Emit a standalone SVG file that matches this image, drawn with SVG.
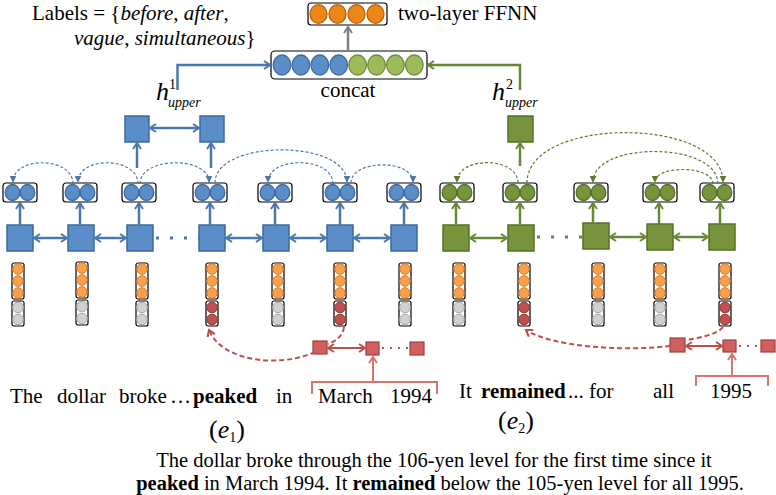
<svg xmlns="http://www.w3.org/2000/svg" width="776" height="495" viewBox="0 0 776 495">
<style>
text{font-family:"Liberation Serif","Times New Roman",serif;fill:#000}
.t20{font-size:20.5px}
.t21{font-size:21px}
.it{font-style:italic}
.b{font-weight:bold}
.bsq{fill:#5b8dc8;stroke:#3d6a9e;stroke-width:1.5}
.gsq{fill:#77943d;stroke:#55702a;stroke-width:1.5}
.rsq{fill:#d0605d;stroke:#a03c3a;stroke-width:1.2}
.box{fill:#fff;stroke:#000;stroke-width:1.2}
.bc{fill:#5b8dc8;stroke:#3d6a9e;stroke-width:1.3}
.gc{fill:#77943d;stroke:#55702a;stroke-width:1.3}
.lgc{fill:#9bbb59;stroke:#6f8a3a;stroke-width:1.3}
.oc{fill:#ec8717;stroke:#b5620c;stroke-width:1.3}
.woc{fill:#f9a04c;stroke:#dc7a22;stroke-width:1}
.wgc{fill:#d0d0d0;stroke:#a8a8a8;stroke-width:1}
.wrc{fill:#c0504d;stroke:#8c3836;stroke-width:1}
.ba{stroke:#4a78ad;stroke-width:2.5;fill:none}
.ga{stroke:#6a8736;stroke-width:2.5;fill:none}
.bd{stroke:#4a78ad;stroke-width:1.2;fill:none;stroke-dasharray:3 2}
.gd{stroke:#5f7a2e;stroke-width:1.2;fill:none;stroke-dasharray:3 2}
.rd{stroke:#b9504c;stroke-width:2;fill:none;stroke-dasharray:5 3}
.ra{stroke:#b9504c;stroke-width:2;fill:none}
.rb{stroke:#d9736e;stroke-width:2;fill:none}
</style>
<defs>
<marker id="mb" viewBox="0 0 10 10" refX="8" refY="5" markerWidth="10" markerHeight="10" markerUnits="userSpaceOnUse" orient="auto-start-reverse"><path d="M2,1 L8,5 L2,9" fill="none" stroke="#4a78ad" stroke-width="2"/></marker>
<marker id="mg" viewBox="0 0 10 10" refX="8" refY="5" markerWidth="10" markerHeight="10" markerUnits="userSpaceOnUse" orient="auto-start-reverse"><path d="M2,1 L8,5 L2,9" fill="none" stroke="#6a8736" stroke-width="2"/></marker>
<marker id="mgr" viewBox="0 0 10 10" refX="8" refY="5" markerWidth="10" markerHeight="10" markerUnits="userSpaceOnUse" orient="auto-start-reverse"><path d="M2,1 L8,5 L2,9" fill="none" stroke="#808080" stroke-width="2"/></marker>
<marker id="mr" viewBox="0 0 10 10" refX="8" refY="5" markerWidth="10" markerHeight="10" markerUnits="userSpaceOnUse" orient="auto-start-reverse"><path d="M2,1 L8,5 L2,9" fill="none" stroke="#b9504c" stroke-width="2"/></marker>
<marker id="mrl" viewBox="0 0 10 10" refX="8" refY="5" markerWidth="10" markerHeight="10" markerUnits="userSpaceOnUse" orient="auto-start-reverse"><path d="M2,1 L8,5 L2,9" fill="none" stroke="#d9736e" stroke-width="2"/></marker>
<marker id="tb" viewBox="0 0 10 10" refX="9" refY="5" markerWidth="7" markerHeight="7" markerUnits="userSpaceOnUse" orient="auto"><path d="M0,0 L10,5 L0,10 z" fill="#4a78ad"/></marker>
<marker id="tg" viewBox="0 0 10 10" refX="9" refY="5" markerWidth="7" markerHeight="7" markerUnits="userSpaceOnUse" orient="auto"><path d="M0,0 L10,5 L0,10 z" fill="#5f7a2e"/></marker>
<g id="wcol">
<rect x="-6" y="0" width="12" height="36" rx="2" class="box"/>
<circle cx="0" cy="6" r="5.3" class="woc"/><circle cx="0" cy="18" r="5.3" class="woc"/><circle cx="0" cy="30" r="5.3" class="woc"/>
<rect x="-6" y="38" width="12" height="25" rx="2" class="box"/>
</g>
<g id="gcirc"><circle cx="0" cy="44.5" r="5.3" class="wgc"/><circle cx="0" cy="56.5" r="5.3" class="wgc"/></g>
<g id="rcirc"><circle cx="0" cy="44.5" r="5.3" class="wrc"/><circle cx="0" cy="56.5" r="5.3" class="wrc"/></g>
<g id="bbox"><rect x="-17" y="0" width="34" height="19" rx="3" class="box"/><ellipse cx="-7.5" cy="9.5" rx="7.3" ry="8" class="bc"/><ellipse cx="7.5" cy="9.5" rx="7.3" ry="8" class="bc"/></g>
<g id="gbox"><rect x="-17" y="0" width="34" height="19" rx="3" class="box"/><ellipse cx="-7.5" cy="9.5" rx="7.3" ry="8" class="gc"/><ellipse cx="7.5" cy="9.5" rx="7.3" ry="8" class="gc"/></g>
</defs>

<!-- top texts -->
<g id="labels">
<text class="t21" x="32" y="20">Labels = {<tspan class="it">before</tspan>, <tspan class="it">after</tspan>,</text>
<text class="t21" x="74" y="45"><tspan class="it">vague</tspan>, <tspan class="it">simultaneous</tspan>}</text>
</g>
<g id="ffnn">
<rect x="308" y="3" width="79" height="22" rx="3" class="box"/>
<ellipse cx="318.5" cy="14" rx="8.5" ry="9.3" class="oc"/><ellipse cx="337.5" cy="14" rx="8.5" ry="9.3" class="oc"/><ellipse cx="356.5" cy="14" rx="8.5" ry="9.3" class="oc"/><ellipse cx="375.5" cy="14" rx="8.5" ry="9.3" class="oc"/>
<text class="t21" x="398" y="20">two-layer FFNN</text>
</g>
<g id="concat">
<rect x="271" y="51" width="156" height="28" rx="4" class="box"/>
<ellipse cx="282" cy="65" rx="8.8" ry="10" class="bc"/><ellipse cx="300.9" cy="65" rx="8.8" ry="10" class="bc"/><ellipse cx="319.8" cy="65" rx="8.8" ry="10" class="bc"/><ellipse cx="338.7" cy="65" rx="8.8" ry="10" class="bc"/>
<ellipse cx="357.6" cy="65" rx="8.8" ry="10" class="lgc"/><ellipse cx="376.5" cy="65" rx="8.8" ry="10" class="lgc"/><ellipse cx="395.4" cy="65" rx="8.8" ry="10" class="lgc"/><ellipse cx="414.3" cy="65" rx="8.8" ry="10" class="lgc"/>
<text class="t21" x="348" y="97" text-anchor="middle">concat</text>
</g>
<g id="h1">
<text class="it" x="156" y="100" font-size="26">h</text>
<text x="169" y="89" font-size="14">1</text>
<text class="it" x="168" y="107" font-size="14">upper</text>
</g>
<g id="h2">
<text class="it" x="492" y="100" font-size="26">h</text>
<text x="506" y="89" font-size="14">2</text>
<text class="it" x="505" y="107" font-size="14">upper</text>
</g>

<!-- blue network -->
<g id="blue-upper">
<rect x="125" y="116" width="24" height="26" class="bsq"/>
<rect x="200" y="116" width="24" height="26" class="bsq"/>
</g>
<g id="blue-boxes">
<use href="#bbox" x="20" y="183"/><use href="#bbox" x="80" y="183"/><use href="#bbox" x="139" y="183"/><use href="#bbox" x="210" y="183"/><use href="#bbox" x="275" y="183"/><use href="#bbox" x="340" y="183"/><use href="#bbox" x="404" y="183"/>
</g>
<g id="blue-squares">
<rect x="7" y="225" width="26" height="26" class="bsq"/>
<rect x="68" y="225" width="26" height="26" class="bsq"/>
<rect x="127" y="225" width="26" height="26" class="bsq"/>
<rect x="199" y="225" width="26" height="26" class="bsq"/>
<rect x="263" y="225" width="26" height="26" class="bsq"/>
<rect x="327" y="225" width="26" height="26" class="bsq"/>
<rect x="391" y="225" width="26" height="26" class="bsq"/>
</g>

<!-- green network -->
<g id="green-upper"><rect x="508" y="116" width="25" height="26" class="gsq"/></g>
<g id="green-boxes">
<use href="#gbox" x="457" y="183"/><use href="#gbox" x="520" y="183"/><use href="#gbox" x="591" y="183"/><use href="#gbox" x="660" y="183"/><use href="#gbox" x="717" y="183"/>
</g>
<g id="green-squares">
<rect x="443" y="225" width="26" height="26" class="gsq"/>
<rect x="508" y="225" width="26" height="26" class="gsq"/>
<rect x="583" y="223" width="26" height="26" class="gsq"/>
<rect x="647" y="224" width="26" height="26" class="gsq"/>
<rect x="709" y="224" width="26" height="26" class="gsq"/>
</g>

<!-- word vectors -->
<g id="word-vectors">
<use href="#wcol" x="18" y="263"/><use href="#gcirc" x="18" y="263"/>
<use href="#wcol" x="82" y="262"/><use href="#gcirc" x="82" y="262"/>
<use href="#wcol" x="142" y="263"/><use href="#gcirc" x="142" y="263"/>
<use href="#wcol" x="212" y="263"/><use href="#rcirc" x="212" y="263"/>
<use href="#wcol" x="278" y="263"/><use href="#gcirc" x="278" y="263"/>
<use href="#wcol" x="340" y="263"/><use href="#rcirc" x="340" y="263"/>
<use href="#wcol" x="405" y="263"/><use href="#gcirc" x="405" y="263"/>
<use href="#wcol" x="459" y="263"/><use href="#gcirc" x="459" y="263"/>
<use href="#wcol" x="524" y="263"/><use href="#rcirc" x="524" y="263"/>
<use href="#wcol" x="598" y="263"/><use href="#gcirc" x="598" y="263"/>
<use href="#wcol" x="660" y="263"/><use href="#gcirc" x="660" y="263"/>
<use href="#wcol" x="725" y="263"/><use href="#rcirc" x="725" y="263"/>
</g>

<!-- red time nodes -->
<g id="red-left">
<rect x="313" y="341" width="14" height="13" class="rsq"/>
<rect x="366" y="342" width="13" height="13" class="rsq"/>
<rect x="410" y="342" width="14" height="13" class="rsq"/>
</g>
<g id="red-right">
<rect x="670" y="338" width="15" height="14" class="rsq"/>
<rect x="723" y="340" width="13" height="12" class="rsq"/>
<rect x="761" y="340" width="14" height="12" class="rsq"/>
</g>

<!-- connectors -->
<g id="connectors">
<path class="ba" d="M177.5 90 V65 H270" marker-end="url(#mb)"/>
<path class="ga" d="M520 90 V65 H428" marker-end="url(#mg)"/>
<path d="M348 50 V27" stroke="#808080" stroke-width="2.5" fill="none" marker-end="url(#mgr)"/>
<path class="ba" d="M150 128 H199" marker-start="url(#mb)" marker-end="url(#mb)"/>
<path class="ba" d="M137 168 V143" marker-end="url(#mb)"/>
<path class="ba" d="M211 168 V143" marker-end="url(#mb)"/>
<path class="ga" d="M520 166 V143" marker-end="url(#mg)"/>
<path class="ba" d="M20 225 V203"  marker-end="url(#mb)"/>
<path class="ba" d="M80 225 V203"  marker-end="url(#mb)"/>
<path class="ba" d="M139 225 V203"  marker-end="url(#mb)"/>
<path class="ba" d="M210 225 V203"  marker-end="url(#mb)"/>
<path class="ba" d="M275 225 V203"  marker-end="url(#mb)"/>
<path class="ba" d="M340 225 V203"  marker-end="url(#mb)"/>
<path class="ba" d="M404 225 V203"  marker-end="url(#mb)"/>
<path class="ba" d="M34 238 H67" marker-start="url(#mb)" marker-end="url(#mb)"/>
<path class="ba" d="M95 238 H126" marker-start="url(#mb)" marker-end="url(#mb)"/>
<path class="ba" d="M226 238 H262" marker-start="url(#mb)" marker-end="url(#mb)"/>
<path class="ba" d="M290 238 H326" marker-start="url(#mb)" marker-end="url(#mb)"/>
<path class="ba" d="M354 238 H390" marker-start="url(#mb)" marker-end="url(#mb)"/>
<path d="M156 238 H199" stroke="#4a78ad" stroke-width="3" stroke-dasharray="3 11" fill="none"/>
<path class="ga" d="M456 225 V203" marker-end="url(#mg)"/>
<path class="ga" d="M520 225 V203" marker-end="url(#mg)"/>
<path class="ga" d="M593 223 V203" marker-end="url(#mg)"/>
<path class="ga" d="M659 224 V203" marker-end="url(#mg)"/>
<path class="ga" d="M720 224 V203" marker-end="url(#mg)"/>
<path class="ga" d="M470 238 H507" marker-start="url(#mg)" marker-end="url(#mg)"/>
<path class="ga" d="M610 237 H646" marker-start="url(#mg)" marker-end="url(#mg)"/>
<path class="ga" d="M674 237 H708" marker-start="url(#mg)" marker-end="url(#mg)"/>
<path d="M537 237 H583" stroke="#6a8736" stroke-width="3" stroke-dasharray="3 11" fill="none"/>
<!-- dependency arcs -->
<path class="bd" d="M73 184 C73 156 13 156 13 182" marker-end="url(#tb)"/>
<path class="bd" d="M138 184 C138 156 78 156 78 182" marker-end="url(#tb)"/>
<path class="bd" d="M140 184 C140 156 209 156 209 182" marker-end="url(#tb)"/>
<path class="bd" d="M215 183 C215 139 347 139 347 182" marker-end="url(#tb)"/>
<path class="bd" d="M333 184 C333 156 268 156 268 182" marker-end="url(#tb)"/>
<path class="bd" d="M351 183 C351 159 413 159 413 182" marker-end="url(#tb)"/>
<path class="gd" d="M518 183 C518 156 457 156 457 182" marker-end="url(#tg)"/>
<path class="gd" d="M527 183 C527 116 723 116 723 182" marker-end="url(#tg)"/>
<path class="gd" d="M718 184 C718 141 593 141 593 182" marker-end="url(#tg)"/>
<path class="gd" d="M713 184 C713 165 655 165 655 182" marker-end="url(#tg)"/>
<!-- red -->
<path class="rd" d="M315 352 C280 368 222 362 209 330" marker-end="url(#mr)"/>
<path class="rd" d="M344 327 C343 336 336 341 328 344"/>
<path class="ra" d="M328 348 H365" marker-start="url(#mr)" marker-end="url(#mr)"/>
<path d="M382 348 H410" stroke="#b9504c" stroke-width="2" stroke-dasharray="2 6" fill="none"/>
<path class="rb" d="M312 394 V382 H437 V394"/>
<path class="rb" d="M373 382 V357" marker-end="url(#mrl)"/>
<path class="rd" d="M670 346 C620 352 550 346 526 330" marker-end="url(#mr)"/>
<path class="rd" d="M723 327 C718 334 700 338 686 340"/>
<path class="ra" d="M686 346 H722" marker-start="url(#mr)" marker-end="url(#mr)"/>
<path d="M739 346 H761" stroke="#b9504c" stroke-width="2" stroke-dasharray="2 6" fill="none"/>
<path class="rb" d="M696 386 V376 H768 V386"/>
<path class="rb" d="M732 376 V354" marker-end="url(#mrl)"/>
</g>

<!-- words -->
<g id="words">
<text class="t21" x="10" y="403">The</text>
<text class="t21" x="57" y="403">dollar</text>
<text class="t21" x="119" y="403">broke</text>
<text class="t21" x="170" y="403">…</text>
<text class="t21 b" x="193" y="403">peaked</text>
<text class="t21" x="276" y="403">in</text>
<text class="t21" x="318" y="403">March</text>
<text class="t21" x="390" y="403">1994</text>
<text class="t21" x="459" y="398">It</text>
<text class="t21 b" x="481" y="398">remained</text>
<text class="t21" x="568" y="398">... for</text>
<text class="t21" x="653" y="398">all</text>
<text class="t21" x="710" y="398">1995</text>
</g>
<g id="events">
<text x="209" y="438" font-size="26">(<tspan class="it">e</tspan><tspan font-size="14" dy="4">1</tspan><tspan dy="-4">)</tspan></text>
<text x="498" y="429" font-size="26">(<tspan class="it">e</tspan><tspan font-size="14" dy="4">2</tspan><tspan dy="-4">)</tspan></text>
</g>
<g id="sentence">
<text class="t20" x="434" y="467" text-anchor="middle">The dollar broke through the 106-yen level for the first time since it</text>
<text class="t20" x="440" y="490" text-anchor="middle"><tspan class="b">peaked</tspan> in March 1994. It <tspan class="b">remained</tspan> below the 105-yen level for all 1995.</text>
</g>
</svg>
